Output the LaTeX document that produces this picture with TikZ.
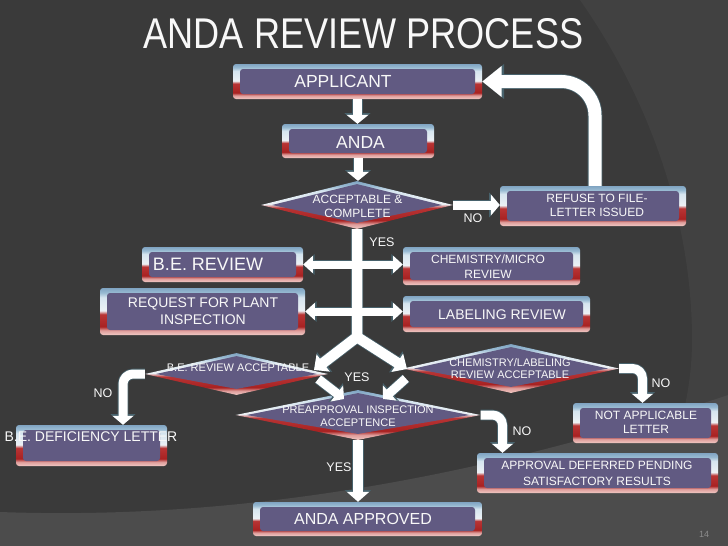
\documentclass[tikz,border=0pt]{standalone}
\usepackage{fontspec}
\usepackage{graphicx}
\setmainfont{Liberation Sans}
\usetikzlibrary{shapes.geometric,arrows.meta}
\definecolor{bgdark}{RGB}{58,58,58}
\definecolor{bgmid}{RGB}{65,65,65}
\definecolor{bglight}{RGB}{76,76,76}
\definecolor{boxfill}{RGB}{97,90,130}
\definecolor{frPinkA}{RGB}{240,200,196}
\definecolor{frPinkB}{RGB}{222,156,154}
\definecolor{frRedA}{RGB}{168,34,34}
\definecolor{frRedB}{RGB}{184,52,52}
\definecolor{frWhiteA}{RGB}{236,241,245}
\definecolor{frWhiteB}{RGB}{214,229,239}
\definecolor{frBlueA}{RGB}{152,186,210}
\definecolor{frBlueB}{RGB}{128,164,194}
\definecolor{edgecol}{RGB}{72,98,108}
\definecolor{txtcol}{RGB}{248,248,248}
\definecolor{numcol}{RGB}{140,140,140}
\pgfdeclareverticalshading{boxframe}{100bp}{color(0bp)=(frPinkA); color(25bp)=(frPinkA); color(30bp)=(frPinkB); color(34bp)=(frRedA); color(47bp)=(frRedB); color(51bp)=(frWhiteA); color(65bp)=(frWhiteB); color(70bp)=(frBlueA); color(75bp)=(frBlueB); color(100bp)=(frBlueB)}
\newcommand\flowarrows[2]{%
\tikzset{ar/.style n args={3}{draw=#1,line width=##1pt+#2pt,line join=round,-{Triangle[width=0pt ##2,length=0pt ##3]}},
dar/.style n args={3}{draw=#1,line width=##1pt+#2pt,{Triangle[width=0pt ##2,length=0pt ##3]}-{Triangle[width=0pt ##2,length=0pt ##3]}}}%
\draw[ar={9}{2.4}{1}] (applicant.south) -- (applicant.south |- anda.north);
\draw[ar={9}{2.4}{1}] (anda.south) -- (anda.south |- d1.north);
\draw[ar={9}{2.3}{1}] (d1.east) -- (d1.east -| refuse.west);
\draw[ar={13}{2.3}{1.5},rounded corners=34pt] ([xshift=2pt]refuse.north) |- (applicant.east);
\draw[dar={8}{2.1}{1.2}] (bereview.east) -- (bereview.east -| chem.west);
\draw[dar={8}{2.1}{1.2}] (request.east) -- (request.east -| label.west);
\draw[ar={10.5}{2}{1.1}] (d1.south) -- (split) -- (sl);
\draw[ar={10.5}{2}{1.1}] (split) -- (sr);
\draw[ar={9}{2.2}{1}] (ba) -- (bae);
\draw[ar={9}{2.2}{1}] (ca) -- (cae);
\draw[ar={9}{2.3}{1},rounded corners=10pt] (bedia.west) -| ([xshift=31.5pt]bedef.north);
\draw[ar={9}{2.3}{1},rounded corners=10pt] (chemdia.east) -| ([xshift=-3pt]notapp.north);
\draw[ar={9}{2.3}{1},rounded corners=10pt] (predia.east) -| ([xshift=-95pt]deferred.north);
\draw[ar={10}{2.2}{1}] (predia.south) -- (predia.south |- approved.north);
}
\tikzset{
 box/.style={rectangle, rounded corners=3pt, shade, shading=boxframe, draw=none, inner sep=0pt,
   path picture={\fill[boxfill] ([shift={(7pt,-5pt)}]path picture bounding box.north west) rectangle ([shift={(-7pt,5pt)}]path picture bounding box.south east);}},
 dia/.style={diamond, shade, shading=boxframe, draw=none, inner sep=0pt,
   path picture={\fill[boxfill] ([yshift=-3pt]path picture bounding box.north) -- ([xshift=-11pt]path picture bounding box.east) -- ([yshift=6pt]path picture bounding box.south) -- ([xshift=11pt]path picture bounding box.west) -- cycle;}},
 txt/.style={text=txtcol, align=center, inner sep=0pt},
 lbl/.style={text=txtcol, inner sep=0pt, font=\fontsize{12.5}{14}\selectfont},
}
\begin{document}
\begin{tikzpicture}[x=1pt,y=-1pt]
\useasboundingbox (0,0) rectangle (728,546);
% background
\fill[bgdark] (0,0) rectangle (728,546);
\fill[bgmid] (580,0) .. controls (650,100) and (692,220) .. (692,340) .. controls (692,420) and (660,490) .. (625,546) -- (728,546) -- (728,0) -- cycle;
\fill[bglight] (0,512) .. controls (220,520) and (460,485) .. (728,395) -- (728,546) -- (0,546) -- cycle;
% title
\node[txt] (title) at (363.5,34) {\scalebox{0.84}[1]{\fontsize{43}{46}\selectfont ANDA REVIEW PROCESS}};
% boxes
\node[box, minimum width=249pt, minimum height=35pt] (applicant) at (357.5,81.5) {};
\node[box, minimum width=152pt, minimum height=34pt] (anda) at (358,141) {};
\node[dia, minimum width=192pt, minimum height=48pt] (d1) at (357,205) {};
\node[box, minimum width=186pt, minimum height=40pt] (refuse) at (593,206) {};
\node[box, minimum width=161pt, minimum height=35pt] (bereview) at (222.5,264.5) {};
\node[box, minimum width=205pt, minimum height=47pt] (request) at (202.5,311.5) {};
\node[box, minimum width=177pt, minimum height=38pt] (chem) at (491.5,266) {};
\node[box, minimum width=187pt, minimum height=36pt] (label) at (496.5,314) {};
\node[dia, minimum width=183pt, minimum height=42pt] (bedia) at (236.5,374) {};
\node[dia, minimum width=216pt, minimum height=49pt] (chemdia) at (511,368.5) {};
\node[dia, minimum width=245pt, minimum height=50pt] (predia) at (358,415) {};
\node[box, minimum width=151pt, minimum height=41pt] (bedef) at (91.5,445.5) {};
\node[box, minimum width=145pt, minimum height=40pt] (notapp) at (645.5,423) {};
\node[box, minimum width=241pt, minimum height=40pt] (deferred) at (597.5,473) {};
\node[box, minimum width=229pt, minimum height=34pt] (approved) at (367.5,519) {};
% texts
\node[txt, font=\fontsize{17.5}{20}\selectfont] (tapplicant) at (343,81.5) {APPLICANT};
\node[txt, font=\fontsize{17.5}{20}\selectfont] (tanda) at (360.5,142) {ANDA};
\node[txt, font=\fontsize{12}{14}\selectfont] (td1) at (357.5,206) {ACCEPTABLE \&\\COMPLETE};
\node[txt, font=\fontsize{12}{13.5}\selectfont] (trefuse) at (597,205.5) {REFUSE TO FILE-\\LETTER ISSUED};
\node[txt, font=\fontsize{18}{20}\selectfont] (tbereview) at (208,264) {B.E. REVIEW};
\node[txt, font=\fontsize{14}{17}\selectfont] (trequest) at (203,311.5) {REQUEST FOR PLANT\\INSPECTION};
\node[txt, font=\fontsize{12}{15}\selectfont] (tchem) at (488,266.5) {CHEMISTRY/MICRO\\REVIEW};
\node[txt, font=\fontsize{14}{16}\selectfont] (tlabel) at (502,315) {LABELING REVIEW};
\node[txt, font=\fontsize{11}{13}\selectfont] (tbedia) at (238,368) {B.E. REVIEW ACCEPTABLE};
\node[txt, font=\fontsize{11}{12}\selectfont] (tchemdia) at (510,368.5) {CHEMISTRY/LABELING\\REVIEW ACCEPTABLE};
\node[txt, font=\fontsize{11}{13}\selectfont] (tpredia) at (358,416.5) {PREAPPROVAL INSPECTION\\ACCEPTENCE};
\node[txt, font=\fontsize{12}{14}\selectfont] (tnotapp) at (646,422) {NOT APPLICABLE\\LETTER};
\node[txt, font=\fontsize{12}{16}\selectfont] (tdeferred) at (597,473) {APPROVAL DEFERRED PENDING\\SATISFACTORY RESULTS};
\node[txt, font=\fontsize{16}{18}\selectfont] (tapproved) at (363,518.5) {ANDA APPROVED};
\node[txt, font=\fontsize{14}{16}\selectfont] (tbedef) at (91,437) {B.E. DEFICIENCY LETTER};
% coordinates for connectors
\coordinate (split) at (357,337);
\coordinate (sl) at (314,370);
\coordinate (sr) at (407,369);
\coordinate (ba) at ([xshift=-10pt,yshift=-5pt]bedia.east);
\coordinate (bae) at (344,399);
\coordinate (ca) at ([xshift=3pt,yshift=-10pt]chemdia.west);
\coordinate (cae) at (383,399);
% arrows: outline pass, then white pass
\flowarrows{edgecol}{1.6}
\flowarrows{white}{0}
% labels
\node[lbl] (no1) at (473,218) {NO};
\node[lbl] (yes1) at (382,242) {YES};
\node[lbl] (yes2) at (357,377) {YES};
\node[lbl] (no2) at (103,393) {NO};
\node[lbl] (no3) at (661,383) {NO};
\node[lbl] (no4) at (522,431) {NO};
\node[lbl] (yes3) at (339,467) {YES};
\node[text=numcol, inner sep=0pt, font=\fontsize{9}{10}\selectfont] (pgnum) at (704,534) {14};
\end{tikzpicture}
\end{document}
